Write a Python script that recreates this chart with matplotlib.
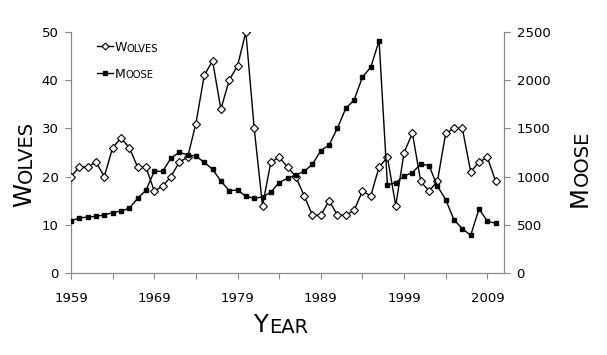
import matplotlib.pyplot as plt
from matplotlib.lines import Line2D

# Isle Royale counts
years = [1959, 1960, 1961, 1962, 1963, 1964, 1965, 1966, 1967, 1968,
         1969, 1970, 1971, 1972, 1973, 1974, 1975, 1976, 1977, 1978,
         1979, 1980, 1981, 1982, 1983, 1984, 1985, 1986, 1987, 1988,
         1989, 1990, 1991, 1992, 1993, 1994, 1995, 1996, 1997, 1998,
         1999, 2000, 2001, 2002, 2003, 2004, 2005, 2006, 2007, 2008,
         2009, 2010]
wolves = [20, 22, 22, 23, 20, 26, 28, 26, 22, 22,
          17, 18, 20, 23, 24, 31, 41, 44, 34, 40,
          43, 50, 30, 14, 23, 24, 22, 20, 16, 12,
          12, 15, 12, 12, 13, 17, 16, 22, 24, 14,
          25, 29, 19, 17, 19, 29, 30, 30, 21, 23,
          24, 19]
moose = [543, 570, 581, 588, 602, 626, 643, 671, 775, 858,
         1055, 1055, 1190, 1253, 1224, 1214, 1148, 1076, 954, 854,
         861, 795, 775, 788, 840, 937, 984, 1017, 1055, 1127,
         1269, 1328, 1504, 1708, 1795, 2033, 2134, 2410, 913, 938,
         1006, 1041, 1131, 1113, 902, 761, 550, 460, 391, 664,
         539, 515]
major_years = [1959, 1969, 1979, 1989, 1999, 2009]
minor_years = [1964, 1974, 1984, 1994, 2004]

spine_col = '#8a8a8a'


def small_caps(fig, x, y, first, rest, big, small, vertical=False):
    # first letter big, rest smaller, glued to it
    if vertical:
        t = fig.text(x, y, first, fontsize=big, rotation=90, ha='right', va='bottom')
        fig.add_artist(plt.Annotation(rest, xy=(1, 1), xycoords=t, fontsize=small,
                                      rotation=90, ha='right', va='bottom'))
    else:
        t = fig.text(x, y, first, fontsize=big, ha='left', va='bottom')
        fig.add_artist(plt.Annotation(rest, xy=(1, 0), xycoords=t, fontsize=small,
                                      ha='left', va='bottom'))
    return t


fig = plt.figure(figsize=(6.07, 3.55), dpi=100)
ax = fig.add_axes([71 / 607, 82 / 355, 433 / 607, 241 / 355])
ax2 = ax.twinx()

ax.plot(years, wolves, color='black', lw=1, marker='D', ms=4.5,
        mfc='white', mec='black', mew=0.8, zorder=3)
ax2.plot(years, moose, color='black', lw=1, marker='s', ms=3.2,
         mfc='black', mec='black')

ax.set_xlim(1959, 2011)
ax.set_ylim(0, 50)
ax2.set_ylim(0, 2500)
ax.set_xticks(major_years)
ax.set_xticks(minor_years, minor=True)
ax.set_yticks([0, 10, 20, 30, 40, 50])
ax2.set_yticks([0, 500, 1000, 1500, 2000, 2500])

for a in (ax, ax2):
    a.spines['top'].set_visible(False)
    for s in ('left', 'right', 'bottom'):
        a.spines[s].set_color(spine_col)
        a.spines[s].set_linewidth(0.9)
ax.spines['right'].set_visible(False)
ax2.spines['left'].set_visible(False)
ax2.spines['bottom'].set_visible(False)

ax.tick_params(axis='x', which='both', direction='out', length=4, width=0.8,
               color=spine_col, pad=10, labelsize=9.5)
ax.tick_params(axis='y', direction='out', length=4, width=0.8,
               color=spine_col, pad=5, labelsize=9.5)
ax2.tick_params(axis='y', direction='out', length=4, width=0.8,
                color=spine_col, pad=5, labelsize=9.5)

# legend, labels made small caps afterwards
h1 = Line2D([], [], color='black', lw=1, marker='D', ms=3.5, mfc='white', mec='black', mew=0.8)
h2 = Line2D([], [], color='black', lw=1, marker='s', ms=3, mfc='black', mec='black')
leg = ax.legend([h1, h2], ['W', 'M'], loc='upper left', bbox_to_anchor=(0.04, 1.0),
                frameon=False, fontsize=9, handlelength=1.3, handletextpad=0.1,
                labelspacing=1.1, borderaxespad=0.3)
for txt, rest in zip(leg.get_texts(), ['OLVES', 'OOSE']):
    fig.add_artist(plt.Annotation(rest, xy=(1, 0), xycoords=txt, fontsize=7.2,
                                  ha='left', va='bottom', zorder=6))

small_caps(fig, 254 / 607, 1 - 337 / 355, 'Y', 'EAR', 17.5, 14)
small_caps(fig, 36 / 607, 1 - 207 / 355, 'W', 'OLVES', 17.5, 14, vertical=True)
small_caps(fig, 592 / 607, 1 - 207 / 355, 'M', 'OOSE', 17.5, 14, vertical=True)

plt.savefig('out.png', dpi=100)
